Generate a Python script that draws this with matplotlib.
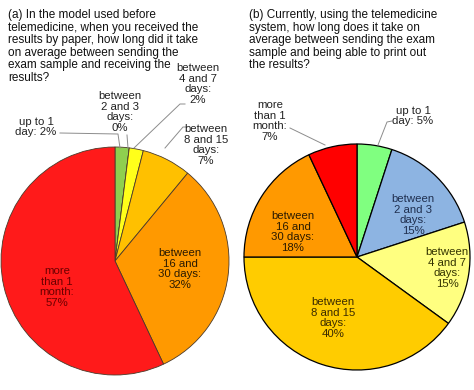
import matplotlib.pyplot as plt

W = 474
H = 390

# (a) before telemedicine
labels_a = ['up to 1\nday: 2%', 'between\n2 and 3\ndays:\n0%', 'between\n4 and 7\ndays:\n2%',
            'between\n8 and 15\ndays:\n7%', 'between\n16 and\n30 days:\n32%',
            'more\nthan 1\nmonth:\n57%']
values_a = [2, 0, 2, 7, 32, 57]
colors_a = ['#8fcf4f', '#ffd966', '#ffff1a', '#ffc000', '#ff9900', '#ff1a1a']

# (b) with telemedicine
labels_b = ['up to 1\nday: 5%', 'between\n2 and 3\ndays:\n15%', 'between\n4 and 7\ndays:\n15%',
            'between\n8 and 15\ndays:\n40%', 'between\n16 and\n30 days:\n18%',
            'more\nthan 1\nmonth:\n7%']
values_b = [5, 15, 15, 40, 18, 7]
colors_b = ['#80ff80', '#8db4e2', '#ffff80', '#ffcc00', '#ff9900', '#ff0000']

title_a = ['(a) In the model used before', 'telemedicine, when you received the',
           'results by paper, how long did it take', 'on average between sending the',
           'exam sample and receiving the', 'results?']
title_b = ['(b) Currently, using the telemedicine', 'system, how long does it take on',
           'average between sending the exam', 'sample and being able to print out',
           'the results?']

plt.rcParams['font.family'] = ['Liberation Sans', 'DejaVu Sans']

fig = plt.figure(figsize=(W / 100, H / 100), dpi=100)
ax = fig.add_axes([0, 0, 1, 1])


def Y(y):
    # pixel row -> data y (y up)
    return H - y


# pies
ax.pie(values_a, colors=colors_a, startangle=90, counterclock=False,
       center=(115, Y(261)), radius=114,
       wedgeprops=dict(edgecolor='#4a3a2a', linewidth=0.6))
ax.pie(values_b, colors=colors_b, startangle=90, counterclock=False,
       center=(357, Y(257)), radius=113,
       wedgeprops=dict(edgecolor='black', linewidth=0.9))

ax.set_xlim(0, W)
ax.set_ylim(0, H)
ax.set_aspect('equal')
ax.axis('off')

fs = 8.2
# titles, one text per line
for i, line in enumerate(title_a):
    ax.text(8, Y(15 + 12.6 * i), line, fontsize=8.5, va='center', ha='left', color='#111111')
for i, line in enumerate(title_b):
    ax.text(249, Y(15 + 12.6 * i), line, fontsize=8.5, va='center', ha='left', color='#111111')

# label positions (pixel coords), text colour
pos_a = [(36, 127), (120, 112), (198, 84), (206, 145), (180, 269), (57, 287)]
tc_a = ['#222222', '#222222', '#222222', '#222222', '#2a1a00', '#6a0000']
pos_b = [(413, 116), (413, 215), (447, 268), (333, 318), (293, 232), (270, 121)]
tc_b = ['#222222', '#1f2f4f', '#333300', '#3a2a00', '#2a1a00', '#222222']

for lab, (x, y), c in zip(labels_a, pos_a, tc_a):
    ax.text(x, Y(y), lab, fontsize=fs, ha='center', va='center', linespacing=1.12, color=c)
for lab, (x, y), c in zip(labels_b, pos_b, tc_b):
    ax.text(x, Y(y), lab, fontsize=fs, ha='center', va='center', linespacing=1.12, color=c)

# leader lines
leaders = [
    [(60, 133), (118, 134), (120, 148)],
    [(127, 135), (128, 148)],
    [(185, 104), (180, 104), (134, 148)],
    [(187, 127), (183, 127), (165, 148)],
    [(290, 128), (325, 145)],
    [(392, 121), (387, 122), (378, 145)],
]
for pts in leaders:
    ax.plot([p[0] for p in pts], [Y(p[1]) for p in pts], color='#8c8c8c', lw=0.7)

fig.savefig('out.png', dpi=100)
